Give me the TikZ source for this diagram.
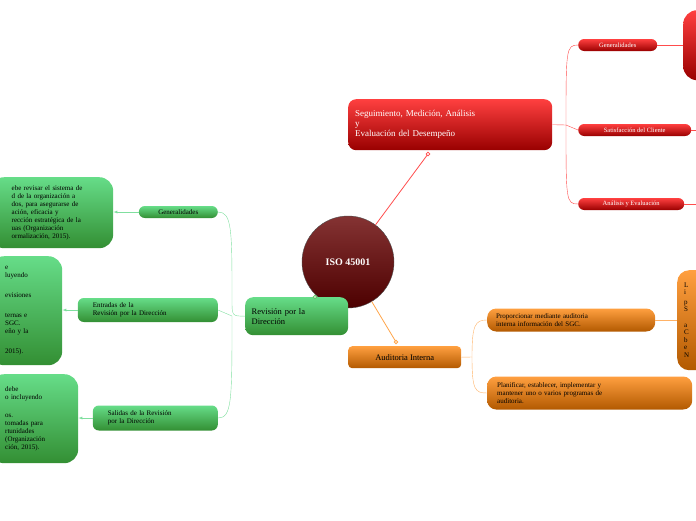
\documentclass[tikz,border=0pt]{standalone}
\usepackage{fontspec}
\setmainfont{Liberation Serif}
\begin{document}
\begin{tikzpicture}[x=1pt,y=-1pt,
 g/.style={rounded corners=6pt,top color=green!55!teal!60!white,bottom color=green!45!black!80,draw=none,text=black,font=\fontsize{7}{8}\selectfont,align=left,inner xsep=6pt},
 gb/.style={g,rounded corners=14pt},
 r/.style={rounded corners=6pt,top color=red!75!white,bottom color=red!60!black,draw=none,text=white,font=\fontsize{6.5}{8}\selectfont,align=left},
 o/.style={rounded corners=9pt,top color=orange!75!white,bottom color=orange!70!black,draw=none,text=black,font=\fontsize{7}{8}\selectfont,align=left},
 gl/.style={draw=green!50!teal!50!white,thin},
 rl/.style={draw=red!70!white,thin},
 ol/.style={draw=orange!60!white,thin}]
\useasboundingbox (0,0) rectangle (696,520);
\clip (0,0) rectangle (696,520);
% center
\node[circle,minimum size=92pt,top color=red!40!black!80,bottom color=red!30!black,draw=black!70,text=white,font=\bfseries\fontsize{10}{12}\selectfont] (c) at (348,262) {ISO 45001};
% red main
\node[r,rounded corners=8pt,minimum width=204pt,minimum height=51pt,text width=190pt,font=\fontsize{9}{10}\selectfont,anchor=north west] (rm) at (348,99) {Seguimiento, Medición, Análisis\\y\\Evaluación del Desempeño};
\node[r,minimum width=79pt,minimum height=12pt,inner ysep=1pt,anchor=west,align=center] (r1) at (578,45) {Generalidades};
\node[r,minimum width=113pt,minimum height=12pt,inner ysep=1pt,anchor=west,align=center] (r2) at (578,130) {Satisfacción del Cliente};
\node[r,minimum width=106pt,minimum height=12pt,inner ysep=1pt,anchor=west,align=center] (r3) at (578,204) {Análisis y Evaluación};
\node[r,rounded corners=14pt,minimum width=40pt,minimum height=70pt,anchor=north west] (r1l) at (683,10) {};
\coordinate (rj) at (566,125);
\draw[rl] (rm.east) -- (rj);
\draw[rl] (rj) .. controls (566,50) and (566,45) .. (r1.west);
\draw[rl] (rj) -- (r2.west);
\draw[rl] (rj) .. controls (566,200) and (566,204) .. (r3.west);
\draw[rl] (r1.east) -- (r1l.west|-r1.east);
\draw[rl] (r2.east) -- (696,130);
\draw[rl] (r3.east) -- (696,204);
\draw[red!70!white,thick] (c) -- (428,154) node[circle,draw,fill=white,inner sep=1.3pt]{};
% green main
\node[g,rounded corners=8pt,minimum width=103pt,minimum height=38pt,text width=90pt,font=\fontsize{8.5}{10}\selectfont,anchor=north west] (gm) at (245,297) {Revisión por la\\Dirección};
\draw[green!60!black!60,thick] (c) -- (315,297) node[circle,draw,fill=white,inner sep=1.2pt]{};
\node[g,minimum width=79pt,minimum height=12pt,inner ysep=1pt,anchor=east,align=center] (g1) at (218,212) {Generalidades};
\node[g,minimum width=130pt,minimum height=24pt,inner ysep=1pt,anchor=east,text width=110pt,inner xsep=15pt] (g2) at (218,310) {Entradas de la\\Revisión por la Dirección};
\node[g,minimum width=115pt,minimum height=25pt,inner ysep=1pt,anchor=east,text width=95pt,inner xsep=15pt] (g3) at (218,418) {Salidas de la Revisión\\por la Dirección};
\draw[gl] (gm.west) .. controls (232,316) and (232,316) .. (232,300) .. controls (232,230) and (232,212) .. (g1.east);
\draw[gl] (232,316) -- (g2.east);
\draw[gl] (232,316) .. controls (232,400) and (232,418) .. (g3.east);
% green leaves
\node[gb,anchor=north west,minimum width=123pt,minimum height=71pt,text width=100pt,inner xsep=0pt] (gl1) at (-10,177) {\hspace*{10pt}ebe revisar el sistema de\\\hspace*{10pt}d de la organización a\\\hspace*{10pt}dos, para asegurarse de\\\hspace*{10pt}ación, eficacia y\\\hspace*{10pt}rección estratégica de la\\\hspace*{10pt}uas (Organización\\\hspace*{10pt}ormalización, 2015).};
\node[gb,anchor=north west,minimum width=72pt,minimum height=109pt,text width=62pt,inner xsep=0pt] (gl2) at (-10,256) {\hspace*{10pt}e\\\hspace*{10pt}luyendo\\[12pt]\hspace*{10pt}evisiones\\[12pt]\hspace*{10pt}ternas e\\\hspace*{10pt}SGC.\\\hspace*{10pt}eño y la\\[12pt]\hspace*{10pt}2015).};
\node[gb,anchor=north west,minimum width=88pt,minimum height=89pt,text width=78pt,inner xsep=0pt] (gl3) at (-10,374) {\hspace*{10pt}debe\\\hspace*{10pt}o incluyendo\\[10pt]\hspace*{10pt}os.\\\hspace*{10pt}tomadas para\\\hspace*{10pt}rtunidades\\\hspace*{10pt}(Organización\\\hspace*{10pt}ción, 2015).};
\draw[gl,-latex] (g1.west) -- (gl1.east|-g1.west);
\draw[gl,-latex] (g2.west) -- (gl2.east|-g2.west);
\draw[gl,-latex] (g3.west) -- (gl3.east|-g3.west);
% orange
\node[o,rounded corners=4pt,minimum width=113pt,minimum height=22pt,font=\fontsize{8.5}{10}\selectfont,anchor=north west,inner xsep=7pt] (om) at (348,346) {Auditoria Interna};
\draw[orange!70!white,thick] (c) -- (396,342) node[circle,draw,fill=white,inner sep=1.2pt]{};
\node[o,minimum width=165pt,minimum height=23pt,text width=150pt,anchor=west,inner xsep=9pt] (o1) at (487,320) {Proporcionar mediante auditoria\\interna información del SGC.};
\node[o,minimum width=205pt,minimum height=33pt,text width=185pt,anchor=west,inner xsep=9pt] (o2) at (487,393) {Planificar, establecer, implementar y\\mantener uno o varios programas de\\auditoria.};
\node[o,rounded corners=12pt,anchor=north west,minimum width=40pt,minimum height=100pt,text width=30pt,inner xsep=7pt,font=\fontsize{7}{7.5}\selectfont] (ol1) at (677,270) {L\\i\\[2pt]p\\S\\[8pt]a\\C\\b\\e\\N};
\coordinate (oj) at (472,357);
\draw[ol] (om.east) -- (oj);
\draw[ol] (oj) .. controls (472,325) and (475,320) .. (o1.west);
\draw[ol] (oj) .. controls (472,390) and (475,393) .. (o2.west);
\draw[ol,thick] (o1.east) -- (ol1.west|-o1.east);
\end{tikzpicture}
\end{document}
